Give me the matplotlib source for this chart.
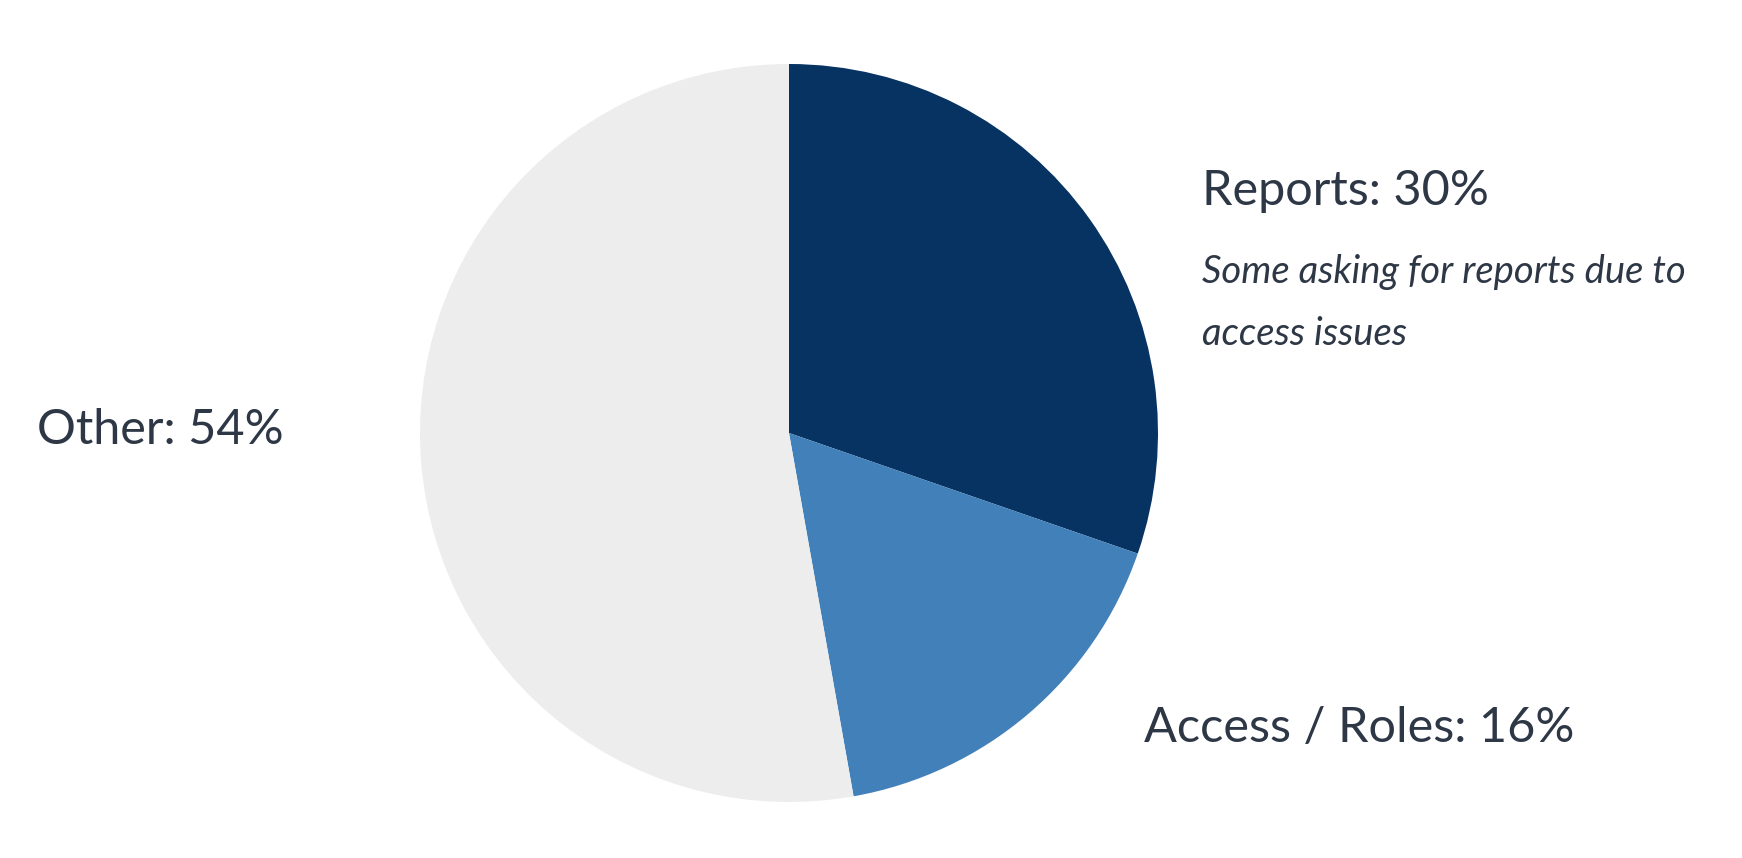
import matplotlib
matplotlib.use("Agg")
from matplotlib import pyplot as plt

# slice shares as drawn (clockwise from 12 o'clock)
categories = ["Reports", "Access / Roles", "Other"]
shares = [30.3, 16.9, 52.8]
label_texts = ["Reports: 30%", "Access / Roles: 16%", "Other: 54%"]
note_lines = ["Some asking for reports due to", "access issues"]
colors = ["#063362", "#4280b9", "#ededed"]
text_color = "#2e3745"

W, H = 1742, 858
plt.rcParams['font.family'] = ['Lato', 'DejaVu Sans']

fig = plt.figure(figsize=(W / 100, H / 100), dpi=100)
fig.patch.set_facecolor("white")

# pie centre (789, 433) px from top-left, radius 369 px
cx, cy, r = 789, 433, 369
ax = fig.add_axes([(cx - r) / W, (H - cy - r) / H, 2 * r / W, 2 * r / H])
ax.pie(shares, colors=colors, startangle=90, counterclock=False,
       wedgeprops=dict(linewidth=0), radius=1)
ax.set_xlim(-1, 1)
ax.set_ylim(-1, 1)
ax.axis('off')


def px_text(x, y, s, **kw):
    # x, y in pixels from top-left, y is the baseline
    fig.text(x / W, 1 - y / H, s, ha='left', va='baseline', color=text_color, **kw)


px_text(1202, 205, label_texts[0], fontsize=35)
px_text(1202, 283, note_lines[0], fontsize=27.5, style='italic')
px_text(1202, 345, note_lines[1], fontsize=27.5, style='italic')
px_text(1144, 742, label_texts[1], fontsize=35)
px_text(37, 444, label_texts[2], fontsize=35)

fig.savefig("out.png", dpi=100, facecolor="white")
